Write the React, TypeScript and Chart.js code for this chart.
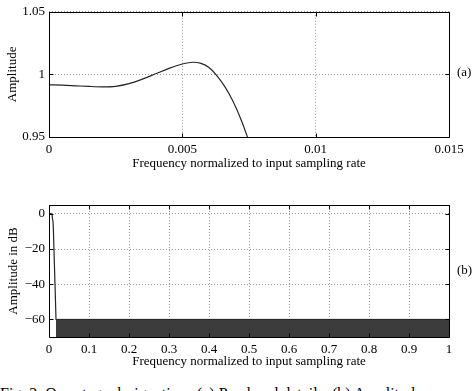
import React, { useEffect, useRef } from "react";
import { Chart, registerables } from "chart.js";

Chart.register(...registerables);

// ---------- Data: (a) passband detail ----------
const passbandFreq = [0, 0.0005, 0.001, 0.0015, 0.002, 0.0025, 0.003, 0.0035, 0.004, 0.0045, 0.005, 0.0054, 0.0057, 0.006, 0.0063, 0.0066, 0.0069, 0.0072, 0.0074, 0.0076];
const passbandAmp = [0.9917, 0.9914, 0.9909, 0.9904, 0.9901, 0.9905, 0.9926, 0.9962, 1.0005, 1.0048, 1.0083, 1.0097, 1.0088, 1.0055, 0.9988, 0.99, 0.9785, 0.964, 0.9525, 0.94];
const passbandXTicks = [0, 0.005, 0.01, 0.015];
const passbandXTickLabels = ["0", "0.005", "0.01", "0.015"];
const passbandYTicks = [0.95, 1, 1.05];
const passbandYTickLabels = ["0.95", "1", "1.05"];

// ---------- Data: (b) amplitude response in dB ----------
const responseFreq = [0, 0.004, 0.0075, 0.0085, 0.0105, 0.0125, 0.015, 0.0175];
const responseDb = [-0.07, 0.05, -0.45, -2.5, -6, -21, -40, -60];
const stopbandFreq = [0.0175, 1];
const stopbandTopDb = [-60, -60];
const responseXTicks = [0, 0.1, 0.2, 0.3, 0.4, 0.5, 0.6, 0.7, 0.8, 0.9, 1];
const responseXTickLabels = ["0", "0.1", "0.2", "0.3", "0.4", "0.5", "0.6", "0.7", "0.8", "0.9", "1"];
const responseYTicks = [-60, -40, -20, 0];
const responseYTickLabels = ["\u221260", "\u221240", "\u221220", "0"];

const xTitle = "Frequency normalized to input sampling rate";
const caption = "Fig. 2. One stage designations (a) Passband details. (b) Amplitude response";

const FONT = "'Liberation Serif', 'Times New Roman', serif";
const tickFont = { family: FONT, size: 13 };
const titleFont = { family: FONT, size: 13 };

const boxPlugin = {
  id: "matlabBox",
  afterDraw(chart: any) {
    const { ctx, chartArea: a, scales } = chart;
    const x = scales.x;
    const y = scales.y;
    const L = Math.round(a.left) + 0.5;
    const R = Math.round(a.right) + 0.5;
    const T = Math.round(a.top) + 0.5;
    const B = Math.round(a.bottom) + 0.5;
    ctx.save();
    ctx.strokeStyle = "#000";
    ctx.lineWidth = 1;
    ctx.beginPath();
    ctx.rect(L, T, R - L, B - T);
    ctx.stroke();
    const tl = 4;
    ctx.beginPath();
    x.ticks.forEach((t: any) => {
      const px = Math.round(x.getPixelForValue(t.value)) + 0.5;
      ctx.moveTo(px, B);
      ctx.lineTo(px, B - tl);
      ctx.moveTo(px, T);
      ctx.lineTo(px, T + tl);
    });
    y.ticks.forEach((t: any) => {
      const py = Math.round(y.getPixelForValue(t.value)) + 0.5;
      ctx.moveTo(L, py);
      ctx.lineTo(L + tl, py);
      ctx.moveTo(R, py);
      ctx.lineTo(R - tl, py);
    });
    ctx.stroke();
    ctx.restore();
  },
};

function makeScales(opts: {
  xMin: number; xMax: number; xTicks: number[]; xLabels: string[];
  yMin: number; yMax: number; yTicks: number[]; yLabels: string[];
  yTitle: string; xHeight: number; xTitlePad: number; yTitlePad: number;
}) {
  const grid = { color: "#9a9a9a", lineWidth: 1, drawTicks: false };
  return {
    x: {
      type: "linear",
      min: opts.xMin,
      max: opts.xMax,
      afterBuildTicks: (s: any) => {
        s.ticks = opts.xTicks.map((v) => ({ value: v }));
      },
      afterFit: (s: any) => {
        s.height = opts.xHeight;
      },
      ticks: {
        autoSkip: false,
        maxRotation: 0,
        padding: 5,
        color: "#000",
        font: tickFont,
        callback: (v: number) => opts.xLabels[opts.xTicks.indexOf(v)],
      },
      grid,
      border: { display: false, dash: [1, 2] },
      title: {
        display: true,
        text: xTitle,
        color: "#000",
        font: titleFont,
        padding: { top: 0, bottom: opts.xTitlePad },
      },
    },
    y: {
      type: "linear",
      min: opts.yMin,
      max: opts.yMax,
      afterBuildTicks: (s: any) => {
        s.ticks = opts.yTicks.map((v) => ({ value: v }));
      },
      afterFit: (s: any) => {
        s.width = 49;
      },
      ticks: {
        autoSkip: false,
        padding: 4,
        color: "#000",
        font: tickFont,
        callback: (v: number) => opts.yLabels[opts.yTicks.indexOf(v)],
      },
      grid,
      border: { display: false, dash: [1, 2] },
      title: {
        display: true,
        text: opts.yTitle,
        color: "#000",
        font: titleFont,
        padding: { top: opts.yTitlePad, bottom: 0 },
      },
    },
  };
}

function PassbandChart() {
  const ref = useRef<HTMLCanvasElement>(null);
  useEffect(() => {
    const chart = new Chart(ref.current as HTMLCanvasElement, {
      type: "line",
      data: {
        datasets: [
          {
            data: passbandFreq.map((f, i) => ({ x: f, y: passbandAmp[i] })),
            borderColor: "#262626",
            borderWidth: 1.2,
            pointRadius: 0,
            cubicInterpolationMode: "monotone",
            fill: false,
          },
        ],
      },
      options: {
        responsive: false,
        animation: false,
        events: [],
        layout: { padding: { top: 6, right: 25, left: 0, bottom: 0 } },
        plugins: { legend: { display: false }, tooltip: { enabled: false } },
        scales: makeScales({
          xMin: 0, xMax: 0.015, xTicks: passbandXTicks, xLabels: passbandXTickLabels,
          yMin: 0.95, yMax: 1.05, yTicks: passbandYTicks, yLabels: passbandYTickLabels,
          yTitle: "Amplitude", xHeight: 43, xTitlePad: 9, yTitlePad: 5,
        }) as any,
      },
      plugins: [boxPlugin],
    });
    return () => chart.destroy();
  }, []);
  return <canvas ref={ref} width={474} height={180} style={{ position: "absolute", left: 0, top: 0, width: 474, height: 180 }} />;
}

function ResponseChart() {
  const ref = useRef<HTMLCanvasElement>(null);
  useEffect(() => {
    const chart = new Chart(ref.current as HTMLCanvasElement, {
      type: "line",
      data: {
        datasets: [
          {
            data: stopbandFreq.map((f, i) => ({ x: f, y: stopbandTopDb[i] })),
            borderColor: "#1e1e1e",
            borderWidth: 1,
            backgroundColor: "#3c3c3c",
            pointRadius: 0,
            fill: "start",
          },
          {
            data: responseFreq.map((f, i) => ({ x: f, y: responseDb[i] })),
            borderColor: "#262626",
            borderWidth: 1.2,
            pointRadius: 0,
            cubicInterpolationMode: "monotone",
            fill: false,
          },
        ],
      },
      options: {
        responsive: false,
        animation: false,
        events: [],
        layout: { padding: { top: 25, right: 25, left: 0, bottom: 0 } },
        plugins: { legend: { display: false }, tooltip: { enabled: false } },
        scales: makeScales({
          xMin: 0, xMax: 1, xTicks: responseXTicks, xLabels: responseXTickLabels,
          yMin: -70, yMax: 5, yTicks: responseYTicks, yLabels: responseYTickLabels,
          yTitle: "Amplitude in dB", xHeight: 38, xTitlePad: 6, yTitlePad: 6,
        }) as any,
      },
      plugins: [boxPlugin],
    });
    return () => chart.destroy();
  }, []);
  return <canvas ref={ref} width={474} height={195} style={{ position: "absolute", left: 0, top: 180, width: 474, height: 195 }} />;
}

export default function App() {
  const label: React.CSSProperties = {
    position: "absolute",
    fontFamily: FONT,
    fontSize: 13,
    lineHeight: "14px",
    color: "#000",
    whiteSpace: "nowrap",
  };
  return (
    <div style={{ position: "fixed", left: 0, top: 0, width: 474, height: 391, overflow: "hidden", background: "#fff" }}>
      <PassbandChart />
      <ResponseChart />
      <div style={{ ...label, left: 457, top: 65 }}>(a)</div>
      <div style={{ ...label, left: 457, top: 263 }}>(b)</div>
      <div style={{ ...label, left: 0, top: 386, fontSize: 16, lineHeight: "16px" }}>{caption}</div>
    </div>
  );
}
